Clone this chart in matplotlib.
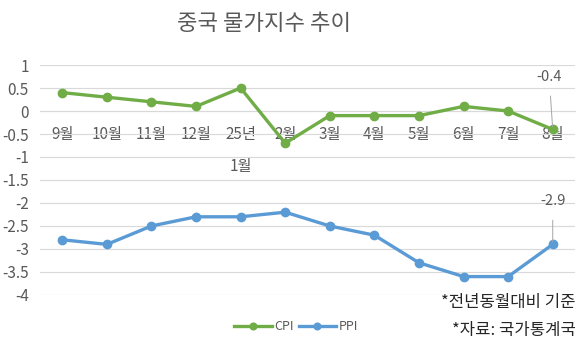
import matplotlib.pyplot as plt
from matplotlib.ticker import FuncFormatter

plt.rcParams['font.family'] = ['Noto Sans CJK KR', 'DejaVu Sans']

# Data
months = ['9월', '10월', '11월', '12월', '25년\n1월', '2월', '3월', '4월', '5월', '6월', '7월', '8월']
cpi = [0.4, 0.3, 0.2, 0.1, 0.5, -0.7, -0.1, -0.1, -0.1, 0.1, 0.0, -0.4]
ppi = [-2.8, -2.9, -2.5, -2.3, -2.3, -2.2, -2.5, -2.7, -3.3, -3.6, -3.6, -2.9]
yticks = [1, 0.5, 0, -0.5, -1, -1.5, -2, -2.5, -3, -3.5, -4]

green = '#70AD47'
blue = '#5B9BD5'
gray = '#595959'

fig = plt.figure(figsize=(5.83, 3.52), dpi=100)
ax = fig.add_axes([0.0686, 0.162, 0.9177, 0.6533])

x = list(range(len(months)))
ax.plot(x, cpi, color=green, lw=2.4, marker='o', ms=6, label='CPI', clip_on=False, zorder=3)
ax.plot(x, ppi, color=blue, lw=2.4, marker='o', ms=6, label='PPI', clip_on=False, zorder=3)

ax.set_xlim(-0.5, len(months) - 0.5)
ax.set_ylim(-4, 1)
ax.set_yticks(yticks)
ax.yaxis.set_major_formatter(FuncFormatter(lambda v, p: f'{v:g}'))
ax.grid(axis='y', color='#d9d9d9', lw=0.8)
ax.set_axisbelow(True)

for s in ['top', 'right', 'left']:
    ax.spines[s].set_visible(False)
ax.spines['bottom'].set_position(('data', 0))
ax.spines['bottom'].set_color('#d9d9d9')
ax.spines['bottom'].set_linewidth(0.8)

ax.set_xticks(x)
ax.set_xticklabels(months)
ax.tick_params(axis='x', length=0, pad=11, labelsize=11, labelcolor=gray)
ax.tick_params(axis='y', length=0, pad=8, labelsize=11, labelcolor=gray)
for lab in ax.get_xticklabels():
    lab.set_linespacing(2.1)

# data labels with leader lines
ax.annotate(f'{cpi[-1]:g}', xy=(x[-1], cpi[-1]), xytext=(x[-1] - 0.08, 0.75),
            ha='center', va='center', fontsize=10.5, color=gray,
            arrowprops=dict(arrowstyle='-', color='#a6a6a6', lw=0.7, shrinkA=7, shrinkB=2))
ax.annotate(f'{ppi[-1]:g}', xy=(x[-1], ppi[-1]), xytext=(x[-1], -1.95),
            ha='center', va='center', fontsize=10.5, color=gray,
            arrowprops=dict(arrowstyle='-', color='#a6a6a6', lw=0.7, shrinkA=7, shrinkB=2))

fig.text(0.452, 0.932, '중국 물가지수 추이', ha='center', va='center', fontsize=16, color=gray)

fig.legend(loc='center', bbox_to_anchor=(0.508, 0.072), ncol=2, frameon=False,
           fontsize=9, labelcolor=gray, handlelength=3, columnspacing=0.4,
           handletextpad=0.2, markerscale=0.8)

fig.text(0.987, 0.142, '*전년동월대비 기준', ha='right', va='center', fontsize=12, color='#262626')
fig.text(0.987, 0.062, '*자료: 국가통계국', ha='right', va='center', fontsize=12, color='#262626')

fig.savefig('out.png', dpi=100)
